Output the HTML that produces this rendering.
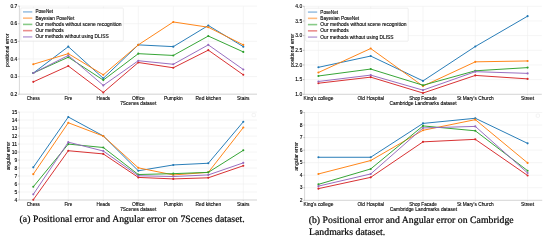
<!DOCTYPE html>
<html><head><meta charset="utf-8"><style>
html,body{margin:0;padding:0;background:#fff;}
body{width:550px;height:240px;overflow:hidden;position:relative;}
svg{position:absolute;left:0;top:0;will-change:transform;}
text{font-family:"Liberation Sans",sans-serif;}
.t{font-size:48.0px;fill:#000;stroke:#000;stroke-width:1.1px;}
.dl{stroke-width:0.95;stroke-linejoin:round;}
.grid{stroke:#eeeeee;stroke-width:0.6;}
.spine{stroke:#cccccc;stroke-width:0.75;}
.tick{stroke:#666;stroke-width:0.5;}
.xtick{stroke:#aaa;stroke-width:0.4;}
.legbox{fill:#fff;fill-opacity:0.85;stroke:#dedede;stroke-width:0.5;}
.emptyleg{fill:none;stroke:#e6e6e6;stroke-width:0.5;}
.cap{font-family:"Liberation Serif",serif;font-size:98.0px;fill:#000;stroke:#000;stroke-width:2.2px;text-rendering:geometricPrecision;}
</style></head><body>
<svg width="550" height="240" viewBox="0 0 550 240">
<line x1="19.4" x2="257" y1="94.2" y2="94.2" class="grid"/>
<line x1="19.4" x2="257" y1="76.58" y2="76.58" class="grid"/>
<line x1="19.4" x2="257" y1="58.96" y2="58.96" class="grid"/>
<line x1="19.4" x2="257" y1="41.34" y2="41.34" class="grid"/>
<line x1="19.4" x2="257" y1="23.72" y2="23.72" class="grid"/>
<line x1="19.4" x2="257" y1="6.1" y2="6.1" class="grid"/>
<line x1="33.3" x2="33.3" y1="6.1" y2="94.2" class="grid"/>
<line x1="68.3" x2="68.3" y1="6.1" y2="94.2" class="grid"/>
<line x1="103.3" x2="103.3" y1="6.1" y2="94.2" class="grid"/>
<line x1="138.3" x2="138.3" y1="6.1" y2="94.2" class="grid"/>
<line x1="173.3" x2="173.3" y1="6.1" y2="94.2" class="grid"/>
<line x1="208.3" x2="208.3" y1="6.1" y2="94.2" class="grid"/>
<line x1="243.3" x2="243.3" y1="6.1" y2="94.2" class="grid"/>
<line x1="19.4" x2="19.4" y1="6.1" y2="94.2" class="spine"/>
<line x1="19.4" x2="257" y1="94.2" y2="94.2" class="spine"/>
<line x1="18.3" x2="19.4" y1="94.2" y2="94.2" class="tick"/>
<text transform="translate(17.3,95.8) scale(0.1)" class="t" text-anchor="end" textLength="69.18" lengthAdjust="spacingAndGlyphs">0.2</text>
<line x1="18.3" x2="19.4" y1="76.58" y2="76.58" class="tick"/>
<text transform="translate(17.3,78.18) scale(0.1)" class="t" text-anchor="end" textLength="69.18" lengthAdjust="spacingAndGlyphs">0.3</text>
<line x1="18.3" x2="19.4" y1="58.96" y2="58.96" class="tick"/>
<text transform="translate(17.3,60.56) scale(0.1)" class="t" text-anchor="end" textLength="69.18" lengthAdjust="spacingAndGlyphs">0.4</text>
<line x1="18.3" x2="19.4" y1="41.34" y2="41.34" class="tick"/>
<text transform="translate(17.3,42.94) scale(0.1)" class="t" text-anchor="end" textLength="69.18" lengthAdjust="spacingAndGlyphs">0.5</text>
<line x1="18.3" x2="19.4" y1="23.72" y2="23.72" class="tick"/>
<text transform="translate(17.3,25.32) scale(0.1)" class="t" text-anchor="end" textLength="69.18" lengthAdjust="spacingAndGlyphs">0.6</text>
<line x1="18.3" x2="19.4" y1="6.1" y2="6.1" class="tick"/>
<text transform="translate(17.3,7.7) scale(0.1)" class="t" text-anchor="end" textLength="69.18" lengthAdjust="spacingAndGlyphs">0.7</text>
<line x1="33.3" x2="33.3" y1="94.2" y2="95.2" class="xtick"/>
<text transform="translate(33.3,99.9) scale(0.1)" class="t" text-anchor="middle" textLength="130.03" lengthAdjust="spacingAndGlyphs">Chess</text>
<line x1="68.3" x2="68.3" y1="94.2" y2="95.2" class="xtick"/>
<text transform="translate(68.3,99.9) scale(0.1)" class="t" text-anchor="middle" textLength="77.63" lengthAdjust="spacingAndGlyphs">Fire</text>
<line x1="103.3" x2="103.3" y1="94.2" y2="95.2" class="xtick"/>
<text transform="translate(103.3,99.9) scale(0.1)" class="t" text-anchor="middle" textLength="136.41" lengthAdjust="spacingAndGlyphs">Heads</text>
<line x1="138.3" x2="138.3" y1="94.2" y2="95.2" class="xtick"/>
<text transform="translate(138.3,99.9) scale(0.1)" class="t" text-anchor="middle" textLength="126.97" lengthAdjust="spacingAndGlyphs">Office</text>
<line x1="173.3" x2="173.3" y1="94.2" y2="95.2" class="xtick"/>
<text transform="translate(173.3,99.9) scale(0.1)" class="t" text-anchor="middle" textLength="187.87" lengthAdjust="spacingAndGlyphs">Pumpkin</text>
<line x1="208.3" x2="208.3" y1="94.2" y2="95.2" class="xtick"/>
<text transform="translate(208.3,99.9) scale(0.1)" class="t" text-anchor="middle" textLength="256.63" lengthAdjust="spacingAndGlyphs">Red kitchen</text>
<line x1="243.3" x2="243.3" y1="94.2" y2="95.2" class="xtick"/>
<text transform="translate(243.3,99.9) scale(0.1)" class="t" text-anchor="middle" textLength="123.96" lengthAdjust="spacingAndGlyphs">Stairs</text>
<text transform="translate(138.2,104.8) scale(0.1)" class="t" text-anchor="middle" textLength="361.26" lengthAdjust="spacingAndGlyphs">7Scenes dataset</text>
<text transform="translate(8.68,50.15) rotate(-90) scale(0.1)" class="t" text-anchor="middle" textLength="330.18" lengthAdjust="spacingAndGlyphs">positional error</text>
<polyline points="33.3,73.06 68.3,46.63 103.3,78.34 138.3,44.86 173.3,46.63 208.3,25.48 243.3,46.63" fill="none" stroke="#1f77b4" class="dl"/>
<circle cx="33.3" cy="73.06" r="1.05" fill="#1f77b4"/>
<circle cx="68.3" cy="46.63" r="1.05" fill="#1f77b4"/>
<circle cx="103.3" cy="78.34" r="1.05" fill="#1f77b4"/>
<circle cx="138.3" cy="44.86" r="1.05" fill="#1f77b4"/>
<circle cx="173.3" cy="46.63" r="1.05" fill="#1f77b4"/>
<circle cx="208.3" cy="25.48" r="1.05" fill="#1f77b4"/>
<circle cx="243.3" cy="46.63" r="1.05" fill="#1f77b4"/>
<polyline points="33.3,64.25 68.3,53.67 103.3,74.82 138.3,44.86 173.3,21.96 208.3,27.24 243.3,44.86" fill="none" stroke="#ff7f0e" class="dl"/>
<circle cx="33.3" cy="64.25" r="1.05" fill="#ff7f0e"/>
<circle cx="68.3" cy="53.67" r="1.05" fill="#ff7f0e"/>
<circle cx="103.3" cy="74.82" r="1.05" fill="#ff7f0e"/>
<circle cx="138.3" cy="44.86" r="1.05" fill="#ff7f0e"/>
<circle cx="173.3" cy="21.96" r="1.05" fill="#ff7f0e"/>
<circle cx="208.3" cy="27.24" r="1.05" fill="#ff7f0e"/>
<circle cx="243.3" cy="44.86" r="1.05" fill="#ff7f0e"/>
<polyline points="33.3,73.06 68.3,57.2 103.3,80.1 138.3,53.67 173.3,55.44 208.3,36.05 243.3,51.91" fill="none" stroke="#2ca02c" class="dl"/>
<circle cx="33.3" cy="73.06" r="1.05" fill="#2ca02c"/>
<circle cx="68.3" cy="57.2" r="1.05" fill="#2ca02c"/>
<circle cx="103.3" cy="80.1" r="1.05" fill="#2ca02c"/>
<circle cx="138.3" cy="53.67" r="1.05" fill="#2ca02c"/>
<circle cx="173.3" cy="55.44" r="1.05" fill="#2ca02c"/>
<circle cx="208.3" cy="36.05" r="1.05" fill="#2ca02c"/>
<circle cx="243.3" cy="51.91" r="1.05" fill="#2ca02c"/>
<polyline points="33.3,81.87 68.3,66.01 103.3,92.44 138.3,62.48 173.3,67.77 208.3,50.15 243.3,74.82" fill="none" stroke="#d62728" class="dl"/>
<circle cx="33.3" cy="81.87" r="1.05" fill="#d62728"/>
<circle cx="68.3" cy="66.01" r="1.05" fill="#d62728"/>
<circle cx="103.3" cy="92.44" r="1.05" fill="#d62728"/>
<circle cx="138.3" cy="62.48" r="1.05" fill="#d62728"/>
<circle cx="173.3" cy="67.77" r="1.05" fill="#d62728"/>
<circle cx="208.3" cy="50.15" r="1.05" fill="#d62728"/>
<circle cx="243.3" cy="74.82" r="1.05" fill="#d62728"/>
<polyline points="33.3,73.06 68.3,55.44 103.3,85.39 138.3,60.72 173.3,64.25 208.3,44.86 243.3,69.53" fill="none" stroke="#9467bd" class="dl"/>
<circle cx="33.3" cy="73.06" r="1.05" fill="#9467bd"/>
<circle cx="68.3" cy="55.44" r="1.05" fill="#9467bd"/>
<circle cx="103.3" cy="85.39" r="1.05" fill="#9467bd"/>
<circle cx="138.3" cy="60.72" r="1.05" fill="#9467bd"/>
<circle cx="173.3" cy="64.25" r="1.05" fill="#9467bd"/>
<circle cx="208.3" cy="44.86" r="1.05" fill="#9467bd"/>
<circle cx="243.3" cy="69.53" r="1.05" fill="#9467bd"/>
<rect x="20.8" y="8" width="102.5" height="33" rx="0.8" class="legbox"/>
<line x1="23" x2="32.3" y1="11.9" y2="11.9" stroke="#9cc2e3" stroke-width="1.6"/>
<text transform="translate(35.4,13.45) scale(0.1)" class="t" text-anchor="start" textLength="177.08" lengthAdjust="spacingAndGlyphs">PoseNet</text>
<line x1="23" x2="32.3" y1="18.15" y2="18.15" stroke="#ffbb80" stroke-width="1.6"/>
<text transform="translate(35.4,19.7) scale(0.1)" class="t" text-anchor="start" textLength="388.89" lengthAdjust="spacingAndGlyphs">Bayesian PoseNet</text>
<line x1="23" x2="32.3" y1="24.4" y2="24.4" stroke="#88cb88" stroke-width="1.6"/>
<text transform="translate(35.4,25.95) scale(0.1)" class="t" text-anchor="start" textLength="861.68" lengthAdjust="spacingAndGlyphs">Our methods without scene recognition</text>
<line x1="23" x2="32.3" y1="30.65" y2="30.65" stroke="#ea8d8d" stroke-width="1.6"/>
<text transform="translate(35.4,32.2) scale(0.1)" class="t" text-anchor="start" textLength="284.17" lengthAdjust="spacingAndGlyphs">Our methods</text>
<line x1="23" x2="32.3" y1="36.9" y2="36.9" stroke="#bfa9dc" stroke-width="1.6"/>
<text transform="translate(35.4,38.45) scale(0.1)" class="t" text-anchor="start" textLength="732.47" lengthAdjust="spacingAndGlyphs">Our methods without using DLISS</text>
<line x1="19.4" x2="257" y1="200" y2="200" class="grid"/>
<line x1="19.4" x2="257" y1="192.01" y2="192.01" class="grid"/>
<line x1="19.4" x2="257" y1="184.02" y2="184.02" class="grid"/>
<line x1="19.4" x2="257" y1="176.03" y2="176.03" class="grid"/>
<line x1="19.4" x2="257" y1="168.04" y2="168.04" class="grid"/>
<line x1="19.4" x2="257" y1="160.05" y2="160.05" class="grid"/>
<line x1="19.4" x2="257" y1="152.05" y2="152.05" class="grid"/>
<line x1="19.4" x2="257" y1="144.06" y2="144.06" class="grid"/>
<line x1="19.4" x2="257" y1="136.07" y2="136.07" class="grid"/>
<line x1="19.4" x2="257" y1="128.08" y2="128.08" class="grid"/>
<line x1="19.4" x2="257" y1="120.09" y2="120.09" class="grid"/>
<line x1="19.4" x2="257" y1="112.1" y2="112.1" class="grid"/>
<line x1="33.3" x2="33.3" y1="112.1" y2="200" class="grid"/>
<line x1="68.3" x2="68.3" y1="112.1" y2="200" class="grid"/>
<line x1="103.3" x2="103.3" y1="112.1" y2="200" class="grid"/>
<line x1="138.3" x2="138.3" y1="112.1" y2="200" class="grid"/>
<line x1="173.3" x2="173.3" y1="112.1" y2="200" class="grid"/>
<line x1="208.3" x2="208.3" y1="112.1" y2="200" class="grid"/>
<line x1="243.3" x2="243.3" y1="112.1" y2="200" class="grid"/>
<line x1="19.4" x2="19.4" y1="112.1" y2="200" class="spine"/>
<line x1="19.4" x2="257" y1="200" y2="200" class="spine"/>
<line x1="18.3" x2="19.4" y1="200" y2="200" class="tick"/>
<text transform="translate(17.3,201.6) scale(0.1)" class="t" text-anchor="end" textLength="27.68" lengthAdjust="spacingAndGlyphs">4</text>
<line x1="18.3" x2="19.4" y1="192.01" y2="192.01" class="tick"/>
<text transform="translate(17.3,193.61) scale(0.1)" class="t" text-anchor="end" textLength="27.68" lengthAdjust="spacingAndGlyphs">5</text>
<line x1="18.3" x2="19.4" y1="184.02" y2="184.02" class="tick"/>
<text transform="translate(17.3,185.62) scale(0.1)" class="t" text-anchor="end" textLength="27.68" lengthAdjust="spacingAndGlyphs">6</text>
<line x1="18.3" x2="19.4" y1="176.03" y2="176.03" class="tick"/>
<text transform="translate(17.3,177.63) scale(0.1)" class="t" text-anchor="end" textLength="27.68" lengthAdjust="spacingAndGlyphs">7</text>
<line x1="18.3" x2="19.4" y1="168.04" y2="168.04" class="tick"/>
<text transform="translate(17.3,169.64) scale(0.1)" class="t" text-anchor="end" textLength="27.68" lengthAdjust="spacingAndGlyphs">8</text>
<line x1="18.3" x2="19.4" y1="160.05" y2="160.05" class="tick"/>
<text transform="translate(17.3,161.65) scale(0.1)" class="t" text-anchor="end" textLength="27.68" lengthAdjust="spacingAndGlyphs">9</text>
<line x1="18.3" x2="19.4" y1="152.05" y2="152.05" class="tick"/>
<text transform="translate(17.3,153.65) scale(0.1)" class="t" text-anchor="end" textLength="55.35" lengthAdjust="spacingAndGlyphs">10</text>
<line x1="18.3" x2="19.4" y1="144.06" y2="144.06" class="tick"/>
<text transform="translate(17.3,145.66) scale(0.1)" class="t" text-anchor="end" textLength="55.35" lengthAdjust="spacingAndGlyphs">11</text>
<line x1="18.3" x2="19.4" y1="136.07" y2="136.07" class="tick"/>
<text transform="translate(17.3,137.67) scale(0.1)" class="t" text-anchor="end" textLength="55.35" lengthAdjust="spacingAndGlyphs">12</text>
<line x1="18.3" x2="19.4" y1="128.08" y2="128.08" class="tick"/>
<text transform="translate(17.3,129.68) scale(0.1)" class="t" text-anchor="end" textLength="55.35" lengthAdjust="spacingAndGlyphs">13</text>
<line x1="18.3" x2="19.4" y1="120.09" y2="120.09" class="tick"/>
<text transform="translate(17.3,121.69) scale(0.1)" class="t" text-anchor="end" textLength="55.35" lengthAdjust="spacingAndGlyphs">14</text>
<line x1="18.3" x2="19.4" y1="112.1" y2="112.1" class="tick"/>
<text transform="translate(17.3,113.7) scale(0.1)" class="t" text-anchor="end" textLength="55.35" lengthAdjust="spacingAndGlyphs">15</text>
<line x1="33.3" x2="33.3" y1="200" y2="201" class="xtick"/>
<text transform="translate(33.3,205.7) scale(0.1)" class="t" text-anchor="middle" textLength="130.03" lengthAdjust="spacingAndGlyphs">Chess</text>
<line x1="68.3" x2="68.3" y1="200" y2="201" class="xtick"/>
<text transform="translate(68.3,205.7) scale(0.1)" class="t" text-anchor="middle" textLength="77.63" lengthAdjust="spacingAndGlyphs">Fire</text>
<line x1="103.3" x2="103.3" y1="200" y2="201" class="xtick"/>
<text transform="translate(103.3,205.7) scale(0.1)" class="t" text-anchor="middle" textLength="136.41" lengthAdjust="spacingAndGlyphs">Heads</text>
<line x1="138.3" x2="138.3" y1="200" y2="201" class="xtick"/>
<text transform="translate(138.3,205.7) scale(0.1)" class="t" text-anchor="middle" textLength="126.97" lengthAdjust="spacingAndGlyphs">Office</text>
<line x1="173.3" x2="173.3" y1="200" y2="201" class="xtick"/>
<text transform="translate(173.3,205.7) scale(0.1)" class="t" text-anchor="middle" textLength="187.87" lengthAdjust="spacingAndGlyphs">Pumpkin</text>
<line x1="208.3" x2="208.3" y1="200" y2="201" class="xtick"/>
<text transform="translate(208.3,205.7) scale(0.1)" class="t" text-anchor="middle" textLength="256.63" lengthAdjust="spacingAndGlyphs">Red kitchen</text>
<line x1="243.3" x2="243.3" y1="200" y2="201" class="xtick"/>
<text transform="translate(243.3,205.7) scale(0.1)" class="t" text-anchor="middle" textLength="123.96" lengthAdjust="spacingAndGlyphs">Stairs</text>
<text transform="translate(138.2,210.6) scale(0.1)" class="t" text-anchor="middle" textLength="361.26" lengthAdjust="spacingAndGlyphs">7Scenes dataset</text>
<text transform="translate(10.06,156.05) rotate(-90) scale(0.1)" class="t" text-anchor="middle" textLength="285.17" lengthAdjust="spacingAndGlyphs">angular error</text>
<polyline points="33.3,167.34 68.3,117 103.3,135.93 138.3,170.77 173.3,164.94 208.3,163.26 243.3,121.79" fill="none" stroke="#1f77b4" class="dl"/>
<circle cx="33.3" cy="167.34" r="1.05" fill="#1f77b4"/>
<circle cx="68.3" cy="117" r="1.05" fill="#1f77b4"/>
<circle cx="103.3" cy="135.93" r="1.05" fill="#1f77b4"/>
<circle cx="138.3" cy="170.77" r="1.05" fill="#1f77b4"/>
<circle cx="173.3" cy="164.94" r="1.05" fill="#1f77b4"/>
<circle cx="208.3" cy="163.26" r="1.05" fill="#1f77b4"/>
<circle cx="243.3" cy="121.79" r="1.05" fill="#1f77b4"/>
<polyline points="33.3,174.13 68.3,122.75 103.3,136.09 138.3,167.82 173.3,174.93 208.3,172.37 243.3,127.54" fill="none" stroke="#ff7f0e" class="dl"/>
<circle cx="33.3" cy="174.13" r="1.05" fill="#ff7f0e"/>
<circle cx="68.3" cy="122.75" r="1.05" fill="#ff7f0e"/>
<circle cx="103.3" cy="136.09" r="1.05" fill="#ff7f0e"/>
<circle cx="138.3" cy="167.82" r="1.05" fill="#ff7f0e"/>
<circle cx="173.3" cy="174.93" r="1.05" fill="#ff7f0e"/>
<circle cx="208.3" cy="172.37" r="1.05" fill="#ff7f0e"/>
<circle cx="243.3" cy="127.54" r="1.05" fill="#ff7f0e"/>
<polyline points="33.3,186.76 68.3,144.08 103.3,147.52 138.3,174.53 173.3,173.65 208.3,172.37 243.3,150.32" fill="none" stroke="#2ca02c" class="dl"/>
<circle cx="33.3" cy="186.76" r="1.05" fill="#2ca02c"/>
<circle cx="68.3" cy="144.08" r="1.05" fill="#2ca02c"/>
<circle cx="103.3" cy="147.52" r="1.05" fill="#2ca02c"/>
<circle cx="138.3" cy="174.53" r="1.05" fill="#2ca02c"/>
<circle cx="173.3" cy="173.65" r="1.05" fill="#2ca02c"/>
<circle cx="208.3" cy="172.37" r="1.05" fill="#2ca02c"/>
<circle cx="243.3" cy="150.32" r="1.05" fill="#2ca02c"/>
<polyline points="33.3,199.7 68.3,150.72 103.3,153.91 138.3,177.41 173.3,178.92 208.3,177.81 243.3,165.74" fill="none" stroke="#d62728" class="dl"/>
<circle cx="33.3" cy="199.7" r="1.05" fill="#d62728"/>
<circle cx="68.3" cy="150.72" r="1.05" fill="#d62728"/>
<circle cx="103.3" cy="153.91" r="1.05" fill="#d62728"/>
<circle cx="138.3" cy="177.41" r="1.05" fill="#d62728"/>
<circle cx="173.3" cy="178.92" r="1.05" fill="#d62728"/>
<circle cx="208.3" cy="177.81" r="1.05" fill="#d62728"/>
<circle cx="243.3" cy="165.74" r="1.05" fill="#d62728"/>
<polyline points="33.3,194.35 68.3,142.17 103.3,151.04 138.3,175.73 173.3,176.53 208.3,174.93 243.3,162.86" fill="none" stroke="#9467bd" class="dl"/>
<circle cx="33.3" cy="194.35" r="1.05" fill="#9467bd"/>
<circle cx="68.3" cy="142.17" r="1.05" fill="#9467bd"/>
<circle cx="103.3" cy="151.04" r="1.05" fill="#9467bd"/>
<circle cx="138.3" cy="175.73" r="1.05" fill="#9467bd"/>
<circle cx="173.3" cy="176.53" r="1.05" fill="#9467bd"/>
<circle cx="208.3" cy="174.93" r="1.05" fill="#9467bd"/>
<circle cx="243.3" cy="162.86" r="1.05" fill="#9467bd"/>
<rect x="252.1" y="113.4" width="3.3" height="3.3" rx="0.8" class="emptyleg"/>
<line x1="304.3" x2="541.8" y1="94.3" y2="94.3" class="grid"/>
<line x1="304.3" x2="541.8" y1="79.63" y2="79.63" class="grid"/>
<line x1="304.3" x2="541.8" y1="64.97" y2="64.97" class="grid"/>
<line x1="304.3" x2="541.8" y1="50.3" y2="50.3" class="grid"/>
<line x1="304.3" x2="541.8" y1="35.63" y2="35.63" class="grid"/>
<line x1="304.3" x2="541.8" y1="20.97" y2="20.97" class="grid"/>
<line x1="304.3" x2="541.8" y1="6.3" y2="6.3" class="grid"/>
<line x1="318.4" x2="318.4" y1="6.3" y2="94.3" class="grid"/>
<line x1="370.7" x2="370.7" y1="6.3" y2="94.3" class="grid"/>
<line x1="423" x2="423" y1="6.3" y2="94.3" class="grid"/>
<line x1="475.3" x2="475.3" y1="6.3" y2="94.3" class="grid"/>
<line x1="527.6" x2="527.6" y1="6.3" y2="94.3" class="grid"/>
<line x1="304.3" x2="304.3" y1="6.3" y2="94.3" class="spine"/>
<line x1="304.3" x2="541.8" y1="94.3" y2="94.3" class="spine"/>
<line x1="303.2" x2="304.3" y1="94.3" y2="94.3" class="tick"/>
<text transform="translate(302.2,95.9) scale(0.1)" class="t" text-anchor="end" textLength="69.18" lengthAdjust="spacingAndGlyphs">1.0</text>
<line x1="303.2" x2="304.3" y1="79.63" y2="79.63" class="tick"/>
<text transform="translate(302.2,81.23) scale(0.1)" class="t" text-anchor="end" textLength="69.18" lengthAdjust="spacingAndGlyphs">1.5</text>
<line x1="303.2" x2="304.3" y1="64.97" y2="64.97" class="tick"/>
<text transform="translate(302.2,66.57) scale(0.1)" class="t" text-anchor="end" textLength="69.18" lengthAdjust="spacingAndGlyphs">2.0</text>
<line x1="303.2" x2="304.3" y1="50.3" y2="50.3" class="tick"/>
<text transform="translate(302.2,51.9) scale(0.1)" class="t" text-anchor="end" textLength="69.18" lengthAdjust="spacingAndGlyphs">2.5</text>
<line x1="303.2" x2="304.3" y1="35.63" y2="35.63" class="tick"/>
<text transform="translate(302.2,37.23) scale(0.1)" class="t" text-anchor="end" textLength="69.18" lengthAdjust="spacingAndGlyphs">3.0</text>
<line x1="303.2" x2="304.3" y1="20.97" y2="20.97" class="tick"/>
<text transform="translate(302.2,22.57) scale(0.1)" class="t" text-anchor="end" textLength="69.18" lengthAdjust="spacingAndGlyphs">3.5</text>
<line x1="303.2" x2="304.3" y1="6.3" y2="6.3" class="tick"/>
<text transform="translate(302.2,7.9) scale(0.1)" class="t" text-anchor="end" textLength="69.18" lengthAdjust="spacingAndGlyphs">4.0</text>
<line x1="318.4" x2="318.4" y1="94.3" y2="95.3" class="xtick"/>
<text transform="translate(318.4,100) scale(0.1)" class="t" text-anchor="middle" textLength="300.08" lengthAdjust="spacingAndGlyphs">King&#39;s college</text>
<line x1="370.7" x2="370.7" y1="94.3" y2="95.3" class="xtick"/>
<text transform="translate(370.7,100) scale(0.1)" class="t" text-anchor="middle" textLength="265.25" lengthAdjust="spacingAndGlyphs">Old Hospital</text>
<line x1="423" x2="423" y1="94.3" y2="95.3" class="xtick"/>
<text transform="translate(423,100) scale(0.1)" class="t" text-anchor="middle" textLength="275.87" lengthAdjust="spacingAndGlyphs">Shop Facade</text>
<line x1="475.3" x2="475.3" y1="94.3" y2="95.3" class="xtick"/>
<text transform="translate(475.3,100) scale(0.1)" class="t" text-anchor="middle" textLength="368.69" lengthAdjust="spacingAndGlyphs">St Mary&#39;s Church</text>
<line x1="527.6" x2="527.6" y1="94.3" y2="95.3" class="xtick"/>
<text transform="translate(527.6,100) scale(0.1)" class="t" text-anchor="middle" textLength="132.18" lengthAdjust="spacingAndGlyphs">Street</text>
<text transform="translate(423.05,104.9) scale(0.1)" class="t" text-anchor="middle" textLength="671.94" lengthAdjust="spacingAndGlyphs">Cambridge Landmarks dataset</text>
<text transform="translate(293.58,50.3) rotate(-90) scale(0.1)" class="t" text-anchor="middle" textLength="330.18" lengthAdjust="spacingAndGlyphs">positional error</text>
<polyline points="318.4,67.32 370.7,56.05 423,80.9 475.3,46.51 527.6,16.16" fill="none" stroke="#1f77b4" class="dl"/>
<circle cx="318.4" cy="67.32" r="1.05" fill="#1f77b4"/>
<circle cx="370.7" cy="56.05" r="1.05" fill="#1f77b4"/>
<circle cx="423" cy="80.9" r="1.05" fill="#1f77b4"/>
<circle cx="475.3" cy="46.51" r="1.05" fill="#1f77b4"/>
<circle cx="527.6" cy="16.16" r="1.05" fill="#1f77b4"/>
<polyline points="318.4,72.52 370.7,48.53 423,86.11 475.3,61.83 527.6,60.96" fill="none" stroke="#ff7f0e" class="dl"/>
<circle cx="318.4" cy="72.52" r="1.05" fill="#ff7f0e"/>
<circle cx="370.7" cy="48.53" r="1.05" fill="#ff7f0e"/>
<circle cx="423" cy="86.11" r="1.05" fill="#ff7f0e"/>
<circle cx="475.3" cy="61.83" r="1.05" fill="#ff7f0e"/>
<circle cx="527.6" cy="60.96" r="1.05" fill="#ff7f0e"/>
<polyline points="318.4,75.99 370.7,69.05 423,85.24 475.3,70.79 527.6,67.61" fill="none" stroke="#2ca02c" class="dl"/>
<circle cx="318.4" cy="75.99" r="1.05" fill="#2ca02c"/>
<circle cx="370.7" cy="69.05" r="1.05" fill="#2ca02c"/>
<circle cx="423" cy="85.24" r="1.05" fill="#2ca02c"/>
<circle cx="475.3" cy="70.79" r="1.05" fill="#2ca02c"/>
<circle cx="527.6" cy="67.61" r="1.05" fill="#2ca02c"/>
<polyline points="318.4,83.22 370.7,77.15 423,93.04 475.3,75.41 527.6,78.88" fill="none" stroke="#d62728" class="dl"/>
<circle cx="318.4" cy="83.22" r="1.05" fill="#d62728"/>
<circle cx="370.7" cy="77.15" r="1.05" fill="#d62728"/>
<circle cx="423" cy="93.04" r="1.05" fill="#d62728"/>
<circle cx="475.3" cy="75.41" r="1.05" fill="#d62728"/>
<circle cx="527.6" cy="78.88" r="1.05" fill="#d62728"/>
<polyline points="318.4,81.48 370.7,75.12 423,90.15 475.3,71.66 527.6,73.39" fill="none" stroke="#9467bd" class="dl"/>
<circle cx="318.4" cy="81.48" r="1.05" fill="#9467bd"/>
<circle cx="370.7" cy="75.12" r="1.05" fill="#9467bd"/>
<circle cx="423" cy="90.15" r="1.05" fill="#9467bd"/>
<circle cx="475.3" cy="71.66" r="1.05" fill="#9467bd"/>
<circle cx="527.6" cy="73.39" r="1.05" fill="#9467bd"/>
<rect x="305.7" y="8.2" width="102.5" height="33" rx="0.8" class="legbox"/>
<line x1="307.9" x2="317.2" y1="12.1" y2="12.1" stroke="#9cc2e3" stroke-width="1.6"/>
<text transform="translate(320.3,13.65) scale(0.1)" class="t" text-anchor="start" textLength="177.08" lengthAdjust="spacingAndGlyphs">PoseNet</text>
<line x1="307.9" x2="317.2" y1="18.35" y2="18.35" stroke="#ffbb80" stroke-width="1.6"/>
<text transform="translate(320.3,19.9) scale(0.1)" class="t" text-anchor="start" textLength="388.89" lengthAdjust="spacingAndGlyphs">Bayesian PoseNet</text>
<line x1="307.9" x2="317.2" y1="24.6" y2="24.6" stroke="#88cb88" stroke-width="1.6"/>
<text transform="translate(320.3,26.15) scale(0.1)" class="t" text-anchor="start" textLength="861.68" lengthAdjust="spacingAndGlyphs">Our methods without scene recognition</text>
<line x1="307.9" x2="317.2" y1="30.85" y2="30.85" stroke="#ea8d8d" stroke-width="1.6"/>
<text transform="translate(320.3,32.4) scale(0.1)" class="t" text-anchor="start" textLength="284.17" lengthAdjust="spacingAndGlyphs">Our methods</text>
<line x1="307.9" x2="317.2" y1="37.1" y2="37.1" stroke="#bfa9dc" stroke-width="1.6"/>
<text transform="translate(320.3,38.65) scale(0.1)" class="t" text-anchor="start" textLength="732.47" lengthAdjust="spacingAndGlyphs">Our methods without using DLISS</text>
<line x1="304.6" x2="542.2" y1="200.3" y2="200.3" class="grid"/>
<line x1="304.6" x2="542.2" y1="187.76" y2="187.76" class="grid"/>
<line x1="304.6" x2="542.2" y1="175.21" y2="175.21" class="grid"/>
<line x1="304.6" x2="542.2" y1="162.67" y2="162.67" class="grid"/>
<line x1="304.6" x2="542.2" y1="150.13" y2="150.13" class="grid"/>
<line x1="304.6" x2="542.2" y1="137.59" y2="137.59" class="grid"/>
<line x1="304.6" x2="542.2" y1="125.04" y2="125.04" class="grid"/>
<line x1="304.6" x2="542.2" y1="112.5" y2="112.5" class="grid"/>
<line x1="318.4" x2="318.4" y1="112.5" y2="200.3" class="grid"/>
<line x1="370.7" x2="370.7" y1="112.5" y2="200.3" class="grid"/>
<line x1="423" x2="423" y1="112.5" y2="200.3" class="grid"/>
<line x1="475.3" x2="475.3" y1="112.5" y2="200.3" class="grid"/>
<line x1="527.6" x2="527.6" y1="112.5" y2="200.3" class="grid"/>
<line x1="304.6" x2="304.6" y1="112.5" y2="200.3" class="spine"/>
<line x1="304.6" x2="542.2" y1="200.3" y2="200.3" class="spine"/>
<line x1="303.5" x2="304.6" y1="200.3" y2="200.3" class="tick"/>
<text transform="translate(302.5,201.9) scale(0.1)" class="t" text-anchor="end" textLength="27.68" lengthAdjust="spacingAndGlyphs">2</text>
<line x1="303.5" x2="304.6" y1="187.76" y2="187.76" class="tick"/>
<text transform="translate(302.5,189.36) scale(0.1)" class="t" text-anchor="end" textLength="27.68" lengthAdjust="spacingAndGlyphs">3</text>
<line x1="303.5" x2="304.6" y1="175.21" y2="175.21" class="tick"/>
<text transform="translate(302.5,176.81) scale(0.1)" class="t" text-anchor="end" textLength="27.68" lengthAdjust="spacingAndGlyphs">4</text>
<line x1="303.5" x2="304.6" y1="162.67" y2="162.67" class="tick"/>
<text transform="translate(302.5,164.27) scale(0.1)" class="t" text-anchor="end" textLength="27.68" lengthAdjust="spacingAndGlyphs">5</text>
<line x1="303.5" x2="304.6" y1="150.13" y2="150.13" class="tick"/>
<text transform="translate(302.5,151.73) scale(0.1)" class="t" text-anchor="end" textLength="27.68" lengthAdjust="spacingAndGlyphs">6</text>
<line x1="303.5" x2="304.6" y1="137.59" y2="137.59" class="tick"/>
<text transform="translate(302.5,139.19) scale(0.1)" class="t" text-anchor="end" textLength="27.68" lengthAdjust="spacingAndGlyphs">7</text>
<line x1="303.5" x2="304.6" y1="125.04" y2="125.04" class="tick"/>
<text transform="translate(302.5,126.64) scale(0.1)" class="t" text-anchor="end" textLength="27.68" lengthAdjust="spacingAndGlyphs">8</text>
<line x1="303.5" x2="304.6" y1="112.5" y2="112.5" class="tick"/>
<text transform="translate(302.5,114.1) scale(0.1)" class="t" text-anchor="end" textLength="27.68" lengthAdjust="spacingAndGlyphs">9</text>
<line x1="318.4" x2="318.4" y1="200.3" y2="201.3" class="xtick"/>
<text transform="translate(318.4,206) scale(0.1)" class="t" text-anchor="middle" textLength="300.08" lengthAdjust="spacingAndGlyphs">King&#39;s college</text>
<line x1="370.7" x2="370.7" y1="200.3" y2="201.3" class="xtick"/>
<text transform="translate(370.7,206) scale(0.1)" class="t" text-anchor="middle" textLength="265.25" lengthAdjust="spacingAndGlyphs">Old Hospital</text>
<line x1="423" x2="423" y1="200.3" y2="201.3" class="xtick"/>
<text transform="translate(423,206) scale(0.1)" class="t" text-anchor="middle" textLength="275.87" lengthAdjust="spacingAndGlyphs">Shop Facade</text>
<line x1="475.3" x2="475.3" y1="200.3" y2="201.3" class="xtick"/>
<text transform="translate(475.3,206) scale(0.1)" class="t" text-anchor="middle" textLength="368.69" lengthAdjust="spacingAndGlyphs">St Mary&#39;s Church</text>
<line x1="527.6" x2="527.6" y1="200.3" y2="201.3" class="xtick"/>
<text transform="translate(527.6,206) scale(0.1)" class="t" text-anchor="middle" textLength="132.18" lengthAdjust="spacingAndGlyphs">Street</text>
<text transform="translate(423.4,210.9) scale(0.1)" class="t" text-anchor="middle" textLength="671.94" lengthAdjust="spacingAndGlyphs">Cambridge Landmarks dataset</text>
<text transform="translate(298.03,156.4) rotate(-90) scale(0.1)" class="t" text-anchor="middle" textLength="285.17" lengthAdjust="spacingAndGlyphs">angular error</text>
<polyline points="318.4,157.28 370.7,157.28 423,123.41 475.3,118.27 527.6,143.36" fill="none" stroke="#1f77b4" class="dl"/>
<circle cx="318.4" cy="157.28" r="1.05" fill="#1f77b4"/>
<circle cx="370.7" cy="157.28" r="1.05" fill="#1f77b4"/>
<circle cx="423" cy="123.41" r="1.05" fill="#1f77b4"/>
<circle cx="475.3" cy="118.27" r="1.05" fill="#1f77b4"/>
<circle cx="527.6" cy="143.36" r="1.05" fill="#1f77b4"/>
<polyline points="318.4,173.96 370.7,160.54 423,130.31 475.3,119.65 527.6,162.92" fill="none" stroke="#ff7f0e" class="dl"/>
<circle cx="318.4" cy="173.96" r="1.05" fill="#ff7f0e"/>
<circle cx="370.7" cy="160.54" r="1.05" fill="#ff7f0e"/>
<circle cx="423" cy="130.31" r="1.05" fill="#ff7f0e"/>
<circle cx="475.3" cy="119.65" r="1.05" fill="#ff7f0e"/>
<circle cx="527.6" cy="162.92" r="1.05" fill="#ff7f0e"/>
<polyline points="318.4,184.37 370.7,168.94 423,125.92 475.3,130.81 527.6,170.7" fill="none" stroke="#2ca02c" class="dl"/>
<circle cx="318.4" cy="184.37" r="1.05" fill="#2ca02c"/>
<circle cx="370.7" cy="168.94" r="1.05" fill="#2ca02c"/>
<circle cx="423" cy="125.92" r="1.05" fill="#2ca02c"/>
<circle cx="475.3" cy="130.81" r="1.05" fill="#2ca02c"/>
<circle cx="527.6" cy="170.7" r="1.05" fill="#2ca02c"/>
<polyline points="318.4,188.64 370.7,177.35 423,141.85 475.3,139.34 527.6,175.47" fill="none" stroke="#d62728" class="dl"/>
<circle cx="318.4" cy="188.64" r="1.05" fill="#d62728"/>
<circle cx="370.7" cy="177.35" r="1.05" fill="#d62728"/>
<circle cx="423" cy="141.85" r="1.05" fill="#d62728"/>
<circle cx="475.3" cy="139.34" r="1.05" fill="#d62728"/>
<circle cx="527.6" cy="175.47" r="1.05" fill="#d62728"/>
<polyline points="318.4,186.13 370.7,173.96 423,127.93 475.3,126.42 527.6,172.96" fill="none" stroke="#9467bd" class="dl"/>
<circle cx="318.4" cy="186.13" r="1.05" fill="#9467bd"/>
<circle cx="370.7" cy="173.96" r="1.05" fill="#9467bd"/>
<circle cx="423" cy="127.93" r="1.05" fill="#9467bd"/>
<circle cx="475.3" cy="126.42" r="1.05" fill="#9467bd"/>
<circle cx="527.6" cy="172.96" r="1.05" fill="#9467bd"/>
<rect x="536.2" y="114" width="3.3" height="3.3" rx="0.8" class="emptyleg"/>
<text transform="translate(19.6,222.3) scale(0.1)" class="cap">(a) Positional error and Angular error on 7Scenes dataset.</text>
<text transform="translate(308.7,222.5) scale(0.1)" class="cap">(b) Positional error and Angular error on Cambridge</text>
<text transform="translate(309.0,234.7) scale(0.1)" class="cap">Landmarks dataset.</text>
</svg>
</body></html>
